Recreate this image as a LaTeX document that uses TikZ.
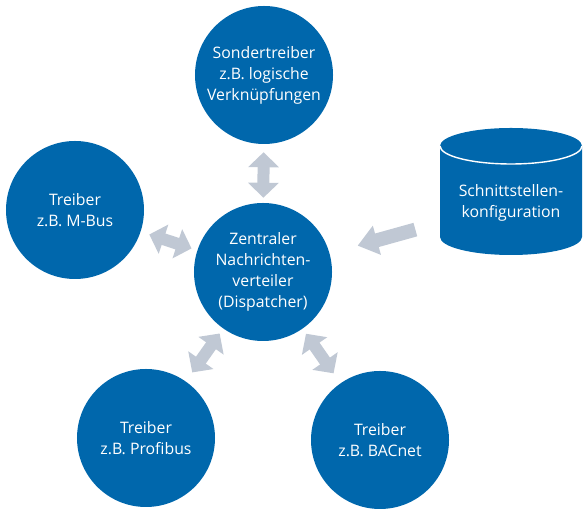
\documentclass[tikz,border=0pt]{standalone}
\usepackage{fontspec}
\setmainfont{Open Sans}
\usepackage{xcolor}
\usepackage{tikz}
\usetikzlibrary{arrows.meta}

\definecolor{dispblue}{RGB}{0,103,172}
\definecolor{arrgray}{RGB}{192,200,212}

\begin{document}
\begin{tikzpicture}[x=0.03cm,y=0.03cm,
  disc/.style={circle,fill=dispblue,text=white,align=center,inner sep=0pt,
    minimum size=4.14cm,font=\fontsize{13.5}{18}\selectfont},
  biarrow/.style={draw=arrgray,line width=0.36cm,
    {Triangle[width=0.9cm,length=0.45cm]}-{Triangle[width=0.9cm,length=0.45cm]},
    shorten <=0.3cm,shorten >=0.18cm},
  feedarrow/.style={draw=arrgray,line width=0.42cm,
    -{Triangle[width=0.87cm,length=0.6cm]}}]
\useasboundingbox (0,0) rectangle (586,510);
% driver discs
\node[disc](spec) at (264,435){Sondertreiber\\z.B. logische\\Verkn\"upfungen};
\node[disc](hub) at (263,238){Zentraler\\Nachrichten-\\verteiler\\(Dispatcher)};
\node[disc](mbus) at (75,300){Treiber\\z.B. M-Bus};
\node[disc](profi) at (146,72){Treiber\\z.B. Profibus};
\node[disc](bac) at (380,70){Treiber\\z.B. BACnet};
% cylinder
\fill[dispblue](440,364)--(440,273)arc[start angle=180,end angle=360,x radius=2.13cm,y radius=0.54cm]
  --(582,364)arc[start angle=0,end angle=180,x radius=2.13cm,y radius=0.54cm]--cycle;
\draw[white,line width=1.2pt](440,364)arc[start angle=180,end angle=360,x radius=2.13cm,y radius=0.54cm];
\node[text=white,align=center,inner sep=0pt,minimum width=4.26cm,minimum height=2.7cm,
  font=\fontsize{13.5}{18}\selectfont](cfg) at (511,307){Schnittstellen-\\konfiguration};
% arrows
\draw[biarrow,shorten <=0.24cm,shorten >=0.15cm](spec)--(hub);
\draw[biarrow,shorten <=0.27cm](mbus)--(hub);
\draw[biarrow,shorten <=0.33cm](profi)--(hub);
\draw[biarrow,shorten <=0.36cm](bac)--(hub);
\draw[feedarrow,shorten <=0.76cm,shorten >=0.87cm](cfg)--(hub);
\end{tikzpicture}
\end{document}
